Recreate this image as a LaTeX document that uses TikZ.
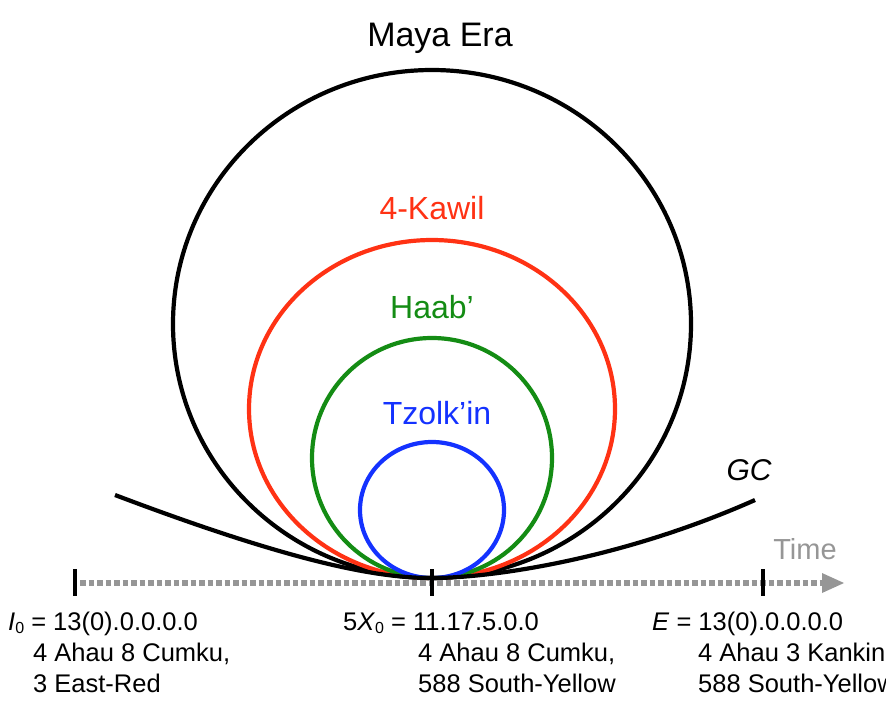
\documentclass[tikz,border=0pt]{standalone}
\usepackage{fontspec}
\setmainfont{Liberation Sans}
\usetikzlibrary{arrows.meta}
\definecolor{myred}{RGB}{255,50,20}
\definecolor{mygreen}{RGB}{20,140,20}
\definecolor{myblue}{RGB}{20,50,255}
\definecolor{mygray}{RGB}{150,150,150}
\tikzset{circ/.style={line width=4.2pt},
 lbl/.style={font=\fontsize{25.5}{31}\selectfont, align=left, anchor=north west, inner sep=0pt},
 tick/.style={line width=3.8pt}}
\begin{document}
\begin{tikzpicture}[x=1pt,y=-1pt]
\useasboundingbox (0,0) rectangle (886,718);
\coordinate (T) at (432,578);
\draw[circ,black] (T) ++(0,-254) ellipse [x radius=259, y radius=254];
\draw[circ,myred] (T) ++(0,-169) ellipse [x radius=183, y radius=169];
\draw[circ,mygreen] (T) ++(0,-120) ellipse [x radius=120, y radius=120];
\draw[circ,myblue] (T) ++(0,-68) ellipse [x radius=72, y radius=68];
\draw[line width=4.2pt] (115,495) .. controls (300,565) and (380,578) .. (T) .. controls (490,578) and (620,560) .. (755,500);
\draw[mygray, line width=6.5pt, dash pattern=on 5.5pt off 3pt] (80,583) -- (826,583);
\fill[mygray] (822,573) -- (844,583) -- (822,593) -- cycle;
\node[mygray, font=\fontsize{29}{32}\selectfont] (time) at (805,549) {Time};
\draw[tick] (75,569) -- (75,596);
\draw[tick] (432,569) -- (432,596);
\draw[tick] (763,569) -- (763,596);
\node[font=\fontsize{34}{36}\selectfont] (maya) at (440,38) {Maya Era};
\node[myred, font=\fontsize{32}{34}\selectfont] (kawil) at (432,208) {4-Kawil};
\node[mygreen, font=\fontsize{32}{34}\selectfont] (haab) at (432,307) {Haab’};
\node[myblue, font=\fontsize{32}{34}\selectfont] (tz) at (437,413) {Tzolk’in};
\node[font=\fontsize{30}{32}\selectfont\itshape] (gc) at (749,470) {GC};
\node[lbl] (l1) at (8,612) {\textit{I}\raisebox{-3pt}{\fontsize{16}{16}\selectfont 0} = 13(0).0.0.0.0\\\hspace{25pt}4 Ahau 8 Cumku,\\\hspace{25pt}3 East-Red};
\node[lbl] (l2) at (343,612) {5\textit{X}\raisebox{-3pt}{\fontsize{16}{16}\selectfont 0} = 11.17.5.0.0\\\hspace{75pt}4 Ahau 8 Cumku,\\\hspace{75pt}588 South-Yellow};
\node[lbl] (l3) at (652,612) {\textit{E} = 13(0).0.0.0.0\\\hspace{46pt}4 Ahau 3 Kankin,\\\hspace{46pt}588 South-Yellow};
\end{tikzpicture}
\end{document}
